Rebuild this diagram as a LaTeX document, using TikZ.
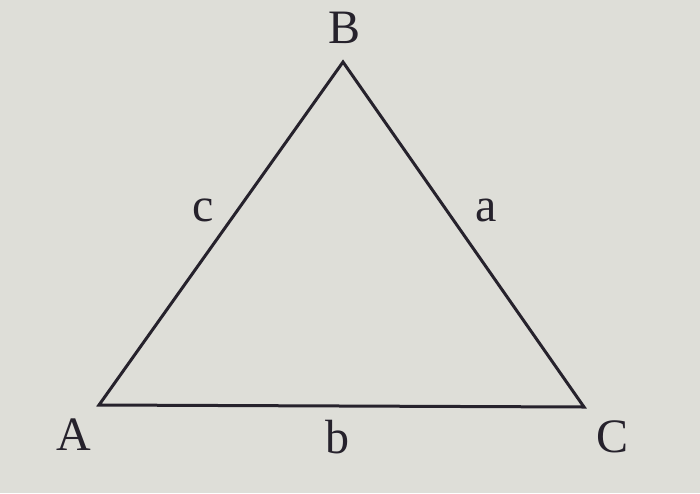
\documentclass[tikz,border=0pt]{standalone}
\usepackage{fontspec}
\setmainfont{Liberation Serif}
\definecolor{bg}{RGB}{222,222,216}
\definecolor{ink}{RGB}{38,34,44}
\begin{document}
\begin{tikzpicture}[x=1pt,y=-1pt,
  lbl/.style={inner sep=0pt,text=ink,font=\fontsize{48}{50}\selectfont},
  side/.style={draw=ink,line width=3pt,line join=miter}]
\fill[bg] (0,0) rectangle (700,493);
\useasboundingbox (0,0) rectangle (700,493);
\coordinate (A) at (99,405);
\coordinate (B) at (343,62);
\coordinate (C) at (584,407);
\draw[side] (A) -- (B) -- (C) -- cycle;
\node[lbl] (lB) at (345,28) {B};
\node[lbl] (lA) at (74,435) {A};
\node[lbl] (lC) at (612,437) {C};
\node[lbl] (lc) at (203,210) {c};
\node[lbl] (la) at (486,210) {a};
\node[lbl] (lb) at (337,437) {b};
\end{tikzpicture}
\end{document}
